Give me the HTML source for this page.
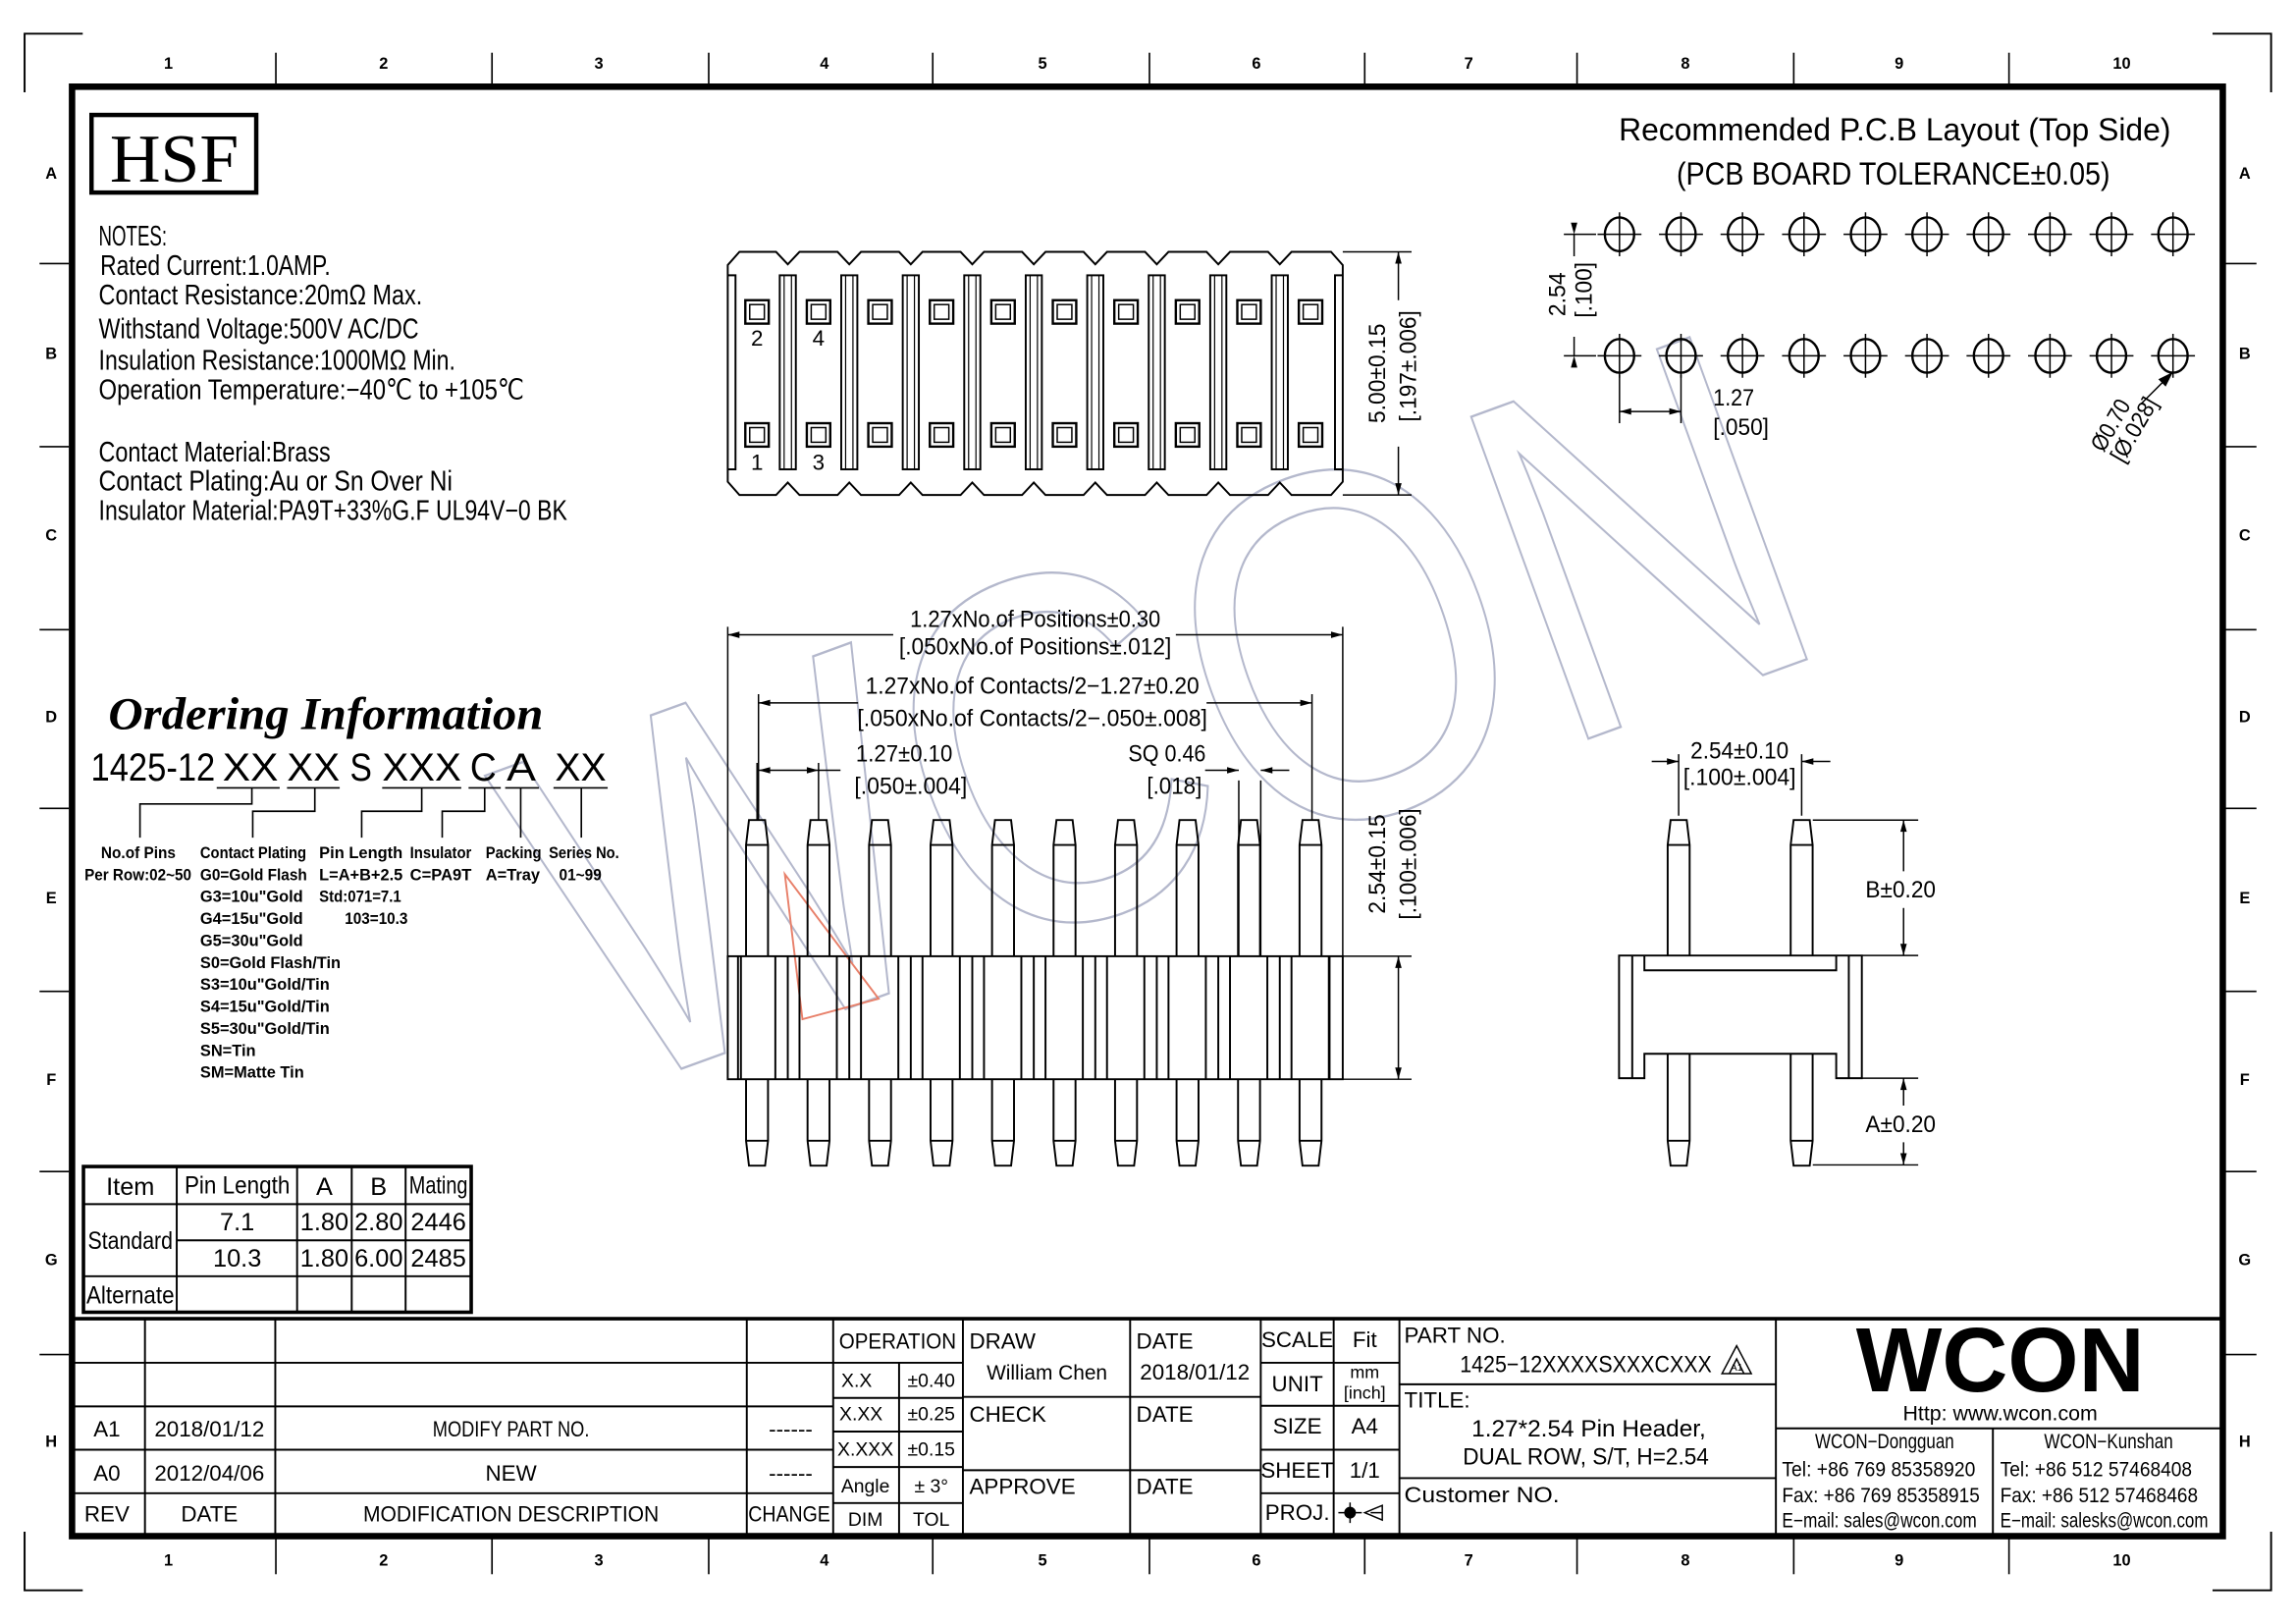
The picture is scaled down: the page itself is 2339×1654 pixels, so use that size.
<!DOCTYPE html>
<html><head><meta charset="utf-8">
<style>
html,body{margin:0;padding:0;background:#fff;}
svg{display:block;}
text{font-family:"Liberation Sans Narrow","Liberation Sans",sans-serif;fill:#000;}
.serif{font-family:"Liberation Serif",serif;}
</style></head>
<body>
<svg id="s" width="2339" height="1654" viewBox="0 0 1568 1109" preserveAspectRatio="none" xmlns="http://www.w3.org/2000/svg">
<rect x="0" y="0" width="1568" height="1109" fill="#fff"/>

<!-- watermark -->
<g transform="translate(410,750) rotate(-20)">
<text x="0" y="0" font-size="340" textLength="900" lengthAdjust="spacingAndGlyphs" style="font-family:'Liberation Sans',sans-serif;fill:none;stroke:#b4b8cc;stroke-width:1.6">WCON</text>
</g>
<polygon points="536,597 548,696 600,682" fill="none" stroke="#e8806a" stroke-width="1.3"/>

<g id="g" stroke="#000" stroke-width="1.3" fill="none">
<path d="M16.8,63 V23 H56.5"/>
<path d="M1551,63 V23 H1511"/>
<path d="M16.8,1046 V1086 H56.5"/>
<path d="M1551,1046 V1086 H1511"/>
<rect x="49.2" y="59.2" width="1468.8" height="989.8" stroke-width="4.4"/>
</g>

<g class="serif" font-size="11" font-weight="bold" text-anchor="middle" style="font-family:'Liberation Serif',serif">
<text x="115" y="47">1</text><text x="262" y="47">2</text><text x="409" y="47">3</text><text x="563" y="47">4</text><text x="712" y="47">5</text><text x="858" y="47">6</text><text x="1003" y="47">7</text><text x="1151" y="47">8</text><text x="1297" y="47">9</text><text x="1449" y="47">10</text>
<text x="115" y="1069">1</text><text x="262" y="1069">2</text><text x="409" y="1069">3</text><text x="563" y="1069">4</text><text x="712" y="1069">5</text><text x="858" y="1069">6</text><text x="1003" y="1069">7</text><text x="1151" y="1069">8</text><text x="1297" y="1069">9</text><text x="1449" y="1069">10</text>
<text x="35" y="122">A</text><text x="35" y="245">B</text><text x="35" y="369">C</text><text x="35" y="493">D</text><text x="35" y="617">E</text><text x="35" y="741">F</text><text x="35" y="864">G</text><text x="35" y="988">H</text>
<text x="1533" y="122">A</text><text x="1533" y="245">B</text><text x="1533" y="369">C</text><text x="1533" y="493">D</text><text x="1533" y="617">E</text><text x="1533" y="741">F</text><text x="1533" y="864">G</text><text x="1533" y="988">H</text>
</g>

<rect x="62.5" y="78.5" width="112.5" height="53" fill="none" stroke="#000" stroke-width="3"/>
<text x="119" y="124" text-anchor="middle" font-size="47" class="serif" style="font-family:'Liberation Serif',serif" textLength="88" lengthAdjust="spacingAndGlyphs">HSF</text>

<g font-size="19">
<text x="67.4" y="167.6" textLength="46.6" lengthAdjust="spacingAndGlyphs">NOTES:</text>
<text x="68.5" y="187.7" textLength="157.2" lengthAdjust="spacingAndGlyphs">Rated  Current:1.0AMP.</text>
<text x="67.4" y="208" textLength="221" lengthAdjust="spacingAndGlyphs">Contact  Resistance:20mΩ  Max.</text>
<text x="67.4" y="231" textLength="218.6" lengthAdjust="spacingAndGlyphs">Withstand  Voltage:500V  AC/DC</text>
<text x="67.4" y="252.5" textLength="243.6" lengthAdjust="spacingAndGlyphs">Insulation  Resistance:1000MΩ  Min.</text>
<text x="67.4" y="272.6" textLength="290.4" lengthAdjust="spacingAndGlyphs">Operation  Temperature:−40℃  to  +105℃</text>
<text x="67.4" y="315" textLength="158.3" lengthAdjust="spacingAndGlyphs">Contact  Material:Brass</text>
<text x="67.4" y="335" textLength="241.6" lengthAdjust="spacingAndGlyphs">Contact  Plating:Au  or  Sn  Over  Ni</text>
<text x="67.4" y="355" textLength="320" lengthAdjust="spacingAndGlyphs">Insulator  Material:PA9T+33%G.F  UL94V−0  BK</text>
</g>

<text x="74" y="498" font-size="31" font-weight="bold" font-style="italic" class="serif" style="font-family:'Liberation Serif',serif" textLength="297" lengthAdjust="spacingAndGlyphs">Ordering Information</text>
<g font-size="27" class="serif" style="font-family:'Liberation Serif',serif">
<text x="62" y="533" textLength="85" lengthAdjust="spacingAndGlyphs">1425-12</text>
<text x="152" y="533" textLength="38" lengthAdjust="spacingAndGlyphs">XX</text>
<text x="196" y="533" textLength="36" lengthAdjust="spacingAndGlyphs">XX</text>
<text x="239" y="533" textLength="15" lengthAdjust="spacingAndGlyphs">S</text>
<text x="261" y="533" textLength="54" lengthAdjust="spacingAndGlyphs">XXX</text>
<text x="321" y="533" textLength="18" lengthAdjust="spacingAndGlyphs">C</text>
<text x="346" y="533" textLength="20" lengthAdjust="spacingAndGlyphs">A</text>
<text x="379" y="533" textLength="35" lengthAdjust="spacingAndGlyphs">XX</text>
</g>
<g stroke="#000" stroke-width="1.1" fill="none">
<path d="M148,538 H191 M196,538 H232 M261,538 H315 M320,538 H342 M345,538 H368 M378,538 H415"/>
<path d="M172,538 V549 H95.6 V572"/>
<path d="M215,538 V554 H172.6 V572"/>
<path d="M288,538 V554 H247 V572"/>
<path d="M331,538 V554 H302 V572"/>
<path d="M355.6,538 V572"/>
<path d="M397,538 V572"/>
</g>
<g font-size="11" font-weight="bold" class="serif" style="font-family:'Liberation Serif',serif">
<text x="69" y="586" textLength="51" lengthAdjust="spacingAndGlyphs">No.of Pins</text>
<text x="57.7" y="601" textLength="73" lengthAdjust="spacingAndGlyphs">Per Row:02~50</text>
<text x="136.7" y="586" textLength="72.5" lengthAdjust="spacingAndGlyphs">Contact Plating</text>
<text x="136.7" y="601" textLength="73" lengthAdjust="spacingAndGlyphs">G0=Gold Flash</text>
<text x="136.7" y="616">G3=10u"Gold</text>
<text x="136.7" y="631">G4=15u"Gold</text>
<text x="136.7" y="646">G5=30u"Gold</text>
<text x="136.7" y="661">S0=Gold Flash/Tin</text>
<text x="136.7" y="676">S3=10u"Gold/Tin</text>
<text x="136.7" y="691">S4=15u"Gold/Tin</text>
<text x="136.7" y="706">S5=30u"Gold/Tin</text>
<text x="136.7" y="721">SN=Tin</text>
<text x="136.7" y="736">SM=Matte Tin</text>
<text x="218" y="586" textLength="57" lengthAdjust="spacingAndGlyphs">Pin Length</text>
<text x="218" y="601" textLength="57" lengthAdjust="spacingAndGlyphs">L=A+B+2.5</text>
<text x="218" y="616" textLength="56" lengthAdjust="spacingAndGlyphs">Std:071=7.1</text>
<text x="235.5" y="631" textLength="43" lengthAdjust="spacingAndGlyphs">103=10.3</text>
<text x="280" y="586" textLength="42" lengthAdjust="spacingAndGlyphs">Insulator</text>
<text x="280" y="601" textLength="42" lengthAdjust="spacingAndGlyphs">C=PA9T</text>
<text x="331.7" y="586" textLength="38" lengthAdjust="spacingAndGlyphs">Packing</text>
<text x="331.7" y="601" textLength="37" lengthAdjust="spacingAndGlyphs">A=Tray</text>
<text x="374.8" y="586" textLength="48" lengthAdjust="spacingAndGlyphs">Series No.</text>
<text x="381.8" y="601" textLength="29" lengthAdjust="spacingAndGlyphs">01~99</text>
</g>

<g stroke="#000" stroke-width="1.3" fill="none">
<rect x="57" y="796.6" width="264.8" height="99.5" stroke-width="2.4"/>
<path d="M57,822.3 H321.8 M120.7,847 H321.8 M57,871.5 H321.8"/>
<path d="M120.7,796.6 V896.1 M202.9,796.6 V896.1 M240.2,796.6 V896.1 M277,796.6 V896.1"/>
</g>
<g font-size="17" text-anchor="middle">
<text x="89" y="816">Item</text><text x="162" y="815" textLength="72" lengthAdjust="spacingAndGlyphs">Pin  Length</text><text x="221.5" y="816">A</text><text x="258.6" y="816">B</text><text x="299.4" y="815" textLength="40" lengthAdjust="spacingAndGlyphs">Mating</text>
<text x="89" y="853" textLength="58" lengthAdjust="spacingAndGlyphs">Standard</text>
<text x="162" y="840">7.1</text><text x="221.5" y="840">1.80</text><text x="258.6" y="840">2.80</text><text x="299.4" y="840">2446</text>
<text x="162" y="865">10.3</text><text x="221.5" y="865">1.80</text><text x="258.6" y="865">6.00</text><text x="299.4" y="865">2485</text>
<text x="89" y="890" textLength="60" lengthAdjust="spacingAndGlyphs">Alternate</text>
</g>

<g id="top" stroke="#000" stroke-width="1.3" fill="none"></g>
<g font-size="15" text-anchor="middle">
<text x="517" y="236">2</text><text x="559" y="236">4</text><text x="517" y="321">1</text><text x="559" y="321">3</text>
</g>
<g stroke="#000" stroke-width="1" fill="none">
<path d="M917,172 H964 M917,338 H964 M955,172 V205 M955,305 V338"/>
</g>
<g font-size="16" text-anchor="middle">
<text transform="translate(946,255) rotate(-90)" textLength="68" lengthAdjust="spacingAndGlyphs">5.00±0.15</text>
<text transform="translate(967,250) rotate(-90)" textLength="76" lengthAdjust="spacingAndGlyphs">[.197±.006]</text>
</g>

<g id="side" stroke="#000" stroke-width="1.3" fill="none"></g>
<g stroke="#000" stroke-width="1" fill="none">
<path d="M497,428 V653 M917,428 V653"/>
<path d="M497,433.5 H610 M803,433.5 H917"/>
<path d="M518,474 V560 M896,474 V560"/>
<path d="M518,480 H586 M824,480 H896"/>
<path d="M517,521 V560 M559,521 V560 M518.5,526 H574"/>
<path d="M846,533 V653 M861,533 V653 M823,526 H846 M861,526 H880.5"/>
<path d="M917,653 H964 M917,737 H964 M955,653 V737"/>
</g>
<g font-size="16" text-anchor="middle">
<text x="707" y="428" textLength="171" lengthAdjust="spacingAndGlyphs">1.27xNo.of  Positions±0.30</text>
<text x="707" y="447" textLength="186" lengthAdjust="spacingAndGlyphs">[.050xNo.of  Positions±.012]</text>
<text x="705" y="473.7" textLength="228" lengthAdjust="spacingAndGlyphs">1.27xNo.of  Contacts/2−1.27±0.20</text>
<text x="705" y="496" textLength="239" lengthAdjust="spacingAndGlyphs">[.050xNo.of  Contacts/2−.050±.008]</text>
<text x="617.5" y="520" textLength="66" lengthAdjust="spacingAndGlyphs">1.27±0.10</text>
<text x="622" y="542" textLength="77" lengthAdjust="spacingAndGlyphs">[.050±.004]</text>
<text x="797" y="520" textLength="53" lengthAdjust="spacingAndGlyphs">SQ  0.46</text>
<text x="802" y="542" textLength="37.5" lengthAdjust="spacingAndGlyphs">[.018]</text>
<text transform="translate(946,590) rotate(-90)" textLength="68" lengthAdjust="spacingAndGlyphs">2.54±0.15</text>
<text transform="translate(967,590) rotate(-90)" textLength="76" lengthAdjust="spacingAndGlyphs">[.100±.006]</text>
</g>

<g id="rside" stroke="#000" stroke-width="1.3" fill="none">
<path d="M1105.7,652.5 H1271.5 V736.3 H1254 V719.6 H1123 V736.3 H1105.7 Z"/>
<path d="M1114.7,652.5 V736.3 M1262.6,652.5 V736.3 M1123,652.5 V662.6 H1254 V652.5"/>
</g>
<g stroke="#000" stroke-width="1" fill="none">
<path d="M1146.4,515 V557 M1230.4,515 V557 M1128,520 H1146.4 M1230.4,520 H1250"/>
<path d="M1238,560 H1310 M1272,652.5 H1310 M1272,736.3 H1310 M1238,795.5 H1310 M1300,560 V595 M1300,620 V652.5 M1300,736.3 V755 M1300,780 V795.5"/>
</g>
<g font-size="16" text-anchor="middle">
<text x="1188" y="518" textLength="67" lengthAdjust="spacingAndGlyphs">2.54±0.10</text>
<text x="1188" y="536" textLength="77" lengthAdjust="spacingAndGlyphs">[.100±.004]</text>
<text x="1298" y="613" textLength="48" lengthAdjust="spacingAndGlyphs">B±0.20</text>
<text x="1298" y="773" textLength="48" lengthAdjust="spacingAndGlyphs">A±0.20</text>
</g>

<g font-size="22" text-anchor="middle">
<text x="1294" y="96" textLength="377" lengthAdjust="spacingAndGlyphs">Recommended  P.C.B  Layout  (Top  Side)</text>
<text x="1293" y="126" textLength="296" lengthAdjust="spacingAndGlyphs">(PCB  BOARD  TOLERANCE±0.05)</text>
</g>
<g id="pcb" stroke="#000" stroke-width="1.3" fill="none"></g>
<g stroke="#000" stroke-width="1" fill="none">
<path d="M1068,160 H1090 M1068,243 H1090 M1075,160 V175 M1075,230 V243"/>
<path d="M1106,256 V289 M1148,256 V289 M1106,281 H1148"/>
<path d="M1484,254 L1462,276"/>
</g>
<g font-size="16" text-anchor="middle">
<text transform="translate(1069,201) rotate(-90)" textLength="30" lengthAdjust="spacingAndGlyphs">2.54</text>
<text transform="translate(1087,198) rotate(-90)" textLength="38" lengthAdjust="spacingAndGlyphs">[.100]</text>
<text x="1184" y="277" textLength="28" lengthAdjust="spacingAndGlyphs">1.27</text>
<text x="1189" y="297" textLength="38" lengthAdjust="spacingAndGlyphs">[.050]</text>
<text transform="translate(1446,293) rotate(-60)" textLength="38" lengthAdjust="spacingAndGlyphs">Ø0.70</text>
<text transform="translate(1462,296) rotate(-60)" textLength="48" lengthAdjust="spacingAndGlyphs">[Ø.028]</text>
</g>

<g stroke="#000" stroke-width="1.3" fill="none">
<path d="M49,900.5 H1518" stroke-width="2.4"/>
<path d="M49,930.6 H569 M49,960.4 H569 M49,990 H569 M49,1019.7 H569" />
<path d="M99,900.5 V1049 M188,900.5 V1049 M510,900.5 V1049 M569,900.5 V1049 M657.6,900.5 V1049 M771.8,900.5 V1049 M861,900.5 V1049 M910.8,900.5 V1049 M955.7,900.5 V1049 M1212.8,900.5 V1049"/>
<path d="M569,930.6 H657.6 M569,954.6 H657.6 M569,977.6 H657.6 M569,1001.8 H657.6 M569,1026.4 H657.6 M614,930.6 V1049"/>
<path d="M657.6,953.9 H861 M657.6,1004 H861"/>
<path d="M861,930.6 H955.7 M861,960 H955.7 M861,990 H955.7 M861,1019.7 H955.7"/>
<path d="M955.7,945.3 H1212.8 M955.7,1009.4 H1212.8"/>
<path d="M1212.8,975.4 H1518 M1361,975.4 V1049"/>
</g>
<g font-size="15">
<g text-anchor="middle">
<text x="73" y="981">A1</text><text x="143" y="981">2018/01/12</text><text x="349" y="981" textLength="107" lengthAdjust="spacingAndGlyphs">MODIFY  PART  NO.</text><text x="540" y="981">------</text>
<text x="73" y="1011">A0</text><text x="143" y="1011">2012/04/06</text><text x="349" y="1011">NEW</text><text x="540" y="1011">------</text>
<text x="73" y="1039">REV</text><text x="143" y="1039">DATE</text><text x="349" y="1039" textLength="202" lengthAdjust="spacingAndGlyphs">MODIFICATION  DESCRIPTION</text><text x="539" y="1039" textLength="56" lengthAdjust="spacingAndGlyphs">CHANGE</text>
<text x="613" y="921" textLength="80" lengthAdjust="spacingAndGlyphs">OPERATION</text>
<text x="585" y="947" font-size="13">X.X</text><text x="636" y="947" font-size="13">±0.40</text>
<text x="588" y="970" font-size="13">X.XX</text><text x="636" y="970" font-size="13">±0.25</text>
<text x="591" y="994" font-size="13">X.XXX</text><text x="636" y="994" font-size="13">±0.15</text>
<text x="591" y="1019" font-size="13">Angle</text><text x="636" y="1019" font-size="13">±  3°</text>
<text x="591" y="1042" font-size="13">DIM</text><text x="636" y="1042" font-size="13">TOL</text>
<text x="715" y="942" font-size="14">William  Chen</text>
<text x="816" y="942">2018/01/12</text>
<text x="886" y="920">SCALE</text><text x="932" y="920">Fit</text>
<text x="886" y="950">UNIT</text><text x="932" y="941" font-size="12">mm</text><text x="932" y="955" font-size="12">[inch]</text>
<text x="886" y="979">SIZE</text><text x="932" y="979">A4</text>
<text x="886" y="1009">SHEET</text><text x="932" y="1009">1/1</text>
<text x="886" y="1038">PROJ.</text>
</g>
<text x="662" y="921">DRAW</text><text x="776" y="921">DATE</text>
<text x="662" y="971">CHECK</text><text x="776" y="971">DATE</text>
<text x="662" y="1020">APPROVE</text><text x="776" y="1020">DATE</text>
<text x="959" y="917">PART  NO.</text>
<text x="997" y="937" font-size="16" textLength="172" lengthAdjust="spacingAndGlyphs">1425−12XXXXSXXXCXXX</text>
<text x="959" y="961">TITLE:</text>
<text x="1085" y="981" font-size="16" text-anchor="middle" textLength="160" lengthAdjust="spacingAndGlyphs">1.27*2.54  Pin  Header,</text>
<text x="1083" y="1000" font-size="16" text-anchor="middle" textLength="168" lengthAdjust="spacingAndGlyphs">DUAL  ROW,  S/T,  H=2.54</text>
<text x="959" y="1026" textLength="106" lengthAdjust="spacingAndGlyphs">Customer  NO.</text>
</g>
<g stroke="#000" stroke-width="1" fill="none">
<path d="M1186,938 L1176,938 L1186,919 L1196,938 Z M1181,938 L1186,928 L1191,938"/>
<circle cx="922" cy="1033" r="3.5" fill="#000"/>
<path d="M914,1033 H930 M922,1026 V1040 M932,1033 L944,1028 V1038 Z M936,1033 H944"/>
</g>
<text x="1186" y="936" font-size="7" text-anchor="middle">A1</text>

<text x="1366" y="950" text-anchor="middle" font-size="62" font-weight="bold" textLength="197" lengthAdjust="spacingAndGlyphs" style="font-family:'Liberation Sans',sans-serif">WCON</text>
<g font-size="14">
<text x="1366" y="970" text-anchor="middle" textLength="133" lengthAdjust="spacingAndGlyphs">Http:  www.wcon.com</text>
<text x="1287" y="989" text-anchor="middle" textLength="95" lengthAdjust="spacingAndGlyphs">WCON−Dongguan</text>
<text x="1217" y="1008" textLength="132" lengthAdjust="spacingAndGlyphs">Tel:  +86  769  85358920</text>
<text x="1217" y="1026" textLength="135" lengthAdjust="spacingAndGlyphs">Fax:  +86  769  85358915</text>
<text x="1217" y="1043" textLength="133" lengthAdjust="spacingAndGlyphs">E−mail:  sales@wcon.com</text>
<text x="1440" y="989" text-anchor="middle" textLength="88" lengthAdjust="spacingAndGlyphs">WCON−Kunshan</text>
<text x="1366" y="1008" textLength="131" lengthAdjust="spacingAndGlyphs">Tel:  +86  512  57468408</text>
<text x="1366" y="1026" textLength="135" lengthAdjust="spacingAndGlyphs">Fax:  +86  512  57468468</text>
<text x="1366" y="1043" textLength="142" lengthAdjust="spacingAndGlyphs">E−mail:  salesks@wcon.com</text>
</g>

<g id="ticks" stroke="#000" stroke-width="1.1"></g>
<g id="arrows" fill="#000"></g>

<script>
var NS="http://www.w3.org/2000/svg";
function el(p,tag,a){var e=document.createElementNS(NS,tag);for(var k in a)e.setAttribute(k,a[k]);document.getElementById(p).appendChild(e);return e;}
[188.4,336,484,637,785,932,1077,1225,1372].forEach(function(x){
 el("ticks","line",{x1:x,y1:36,x2:x,y2:57});
 el("ticks","line",{x1:x,y1:1051,x2:x,y2:1075});
});
[180,305,430,552,677,800,925].forEach(function(y){
 el("ticks","line",{x1:27,y1:y,x2:47,y2:y});
 el("ticks","line",{x1:1520,y1:y,x2:1541,y2:y});
});
var d="M497,181 L505,172";
for(var k=0;k<9;k++){var m=538+42*k;d+=" L"+(m-8)+",172 L"+m+",180.5 L"+(m+8)+",172";}
d+=" L909,172 L917,181 L917,329 L909,338";
for(var k=8;k>=0;k--){var m=538+42*k;d+=" L"+(m+8)+",338 L"+m+",329.5 L"+(m-8)+",338";}
d+=" L505,338 L497,329 Z";
el("top","path",{d:d});
el("top","path",{d:"M497,188 H502.3 V320.5 H497 M917,188 H911.7 V320.5 H917"});
for(var k=0;k<9;k++){var m=538+42*k;
 el("top","rect",{x:m-5.5,y:188,width:11,height:132.5});
 el("top","rect",{x:m-2.5,y:188,width:5,height:132.5,"stroke-width":0.8});
}
for(var i=0;i<10;i++){var c=517+42*i;
 [205,289].forEach(function(y){
  el("top","rect",{x:c-8,y:y,width:16,height:16,"stroke-width":1.6});
  el("top","rect",{x:c-5,y:y+3,width:10,height:10,"stroke-width":1});
 });
}
el("side","rect",{x:497,y:653,width:420,height:84});
for(var i=0;i<10;i++){var c=517+42*i;
 el("side","path",{d:"M"+(c-7.5)+",653 V577 L"+(c-5.5)+",560 H"+(c+5.5)+" L"+(c+7.5)+",577 V653 M"+(c-7.5)+",577 H"+(c+7.5)});
 el("side","path",{d:"M"+(c-7.5)+",737 V779 L"+(c-5.5)+",796 H"+(c+5.5)+" L"+(c+7.5)+",779 V737 M"+(c-7.5)+",779 H"+(c+7.5)});
 el("side","path",{d:"M"+(c-13)+",653 V737 M"+(c+12.5)+",653 V737"});
 if(i<9) el("side","path",{d:"M"+(c+21)+",653 V737"});
}
el("side","path",{d:"M506,653 V737 M908,653 V737"});
[1146.4,1230.4].forEach(function(c){
 el("rside","path",{d:"M"+(c-7.5)+",652.5 V577 L"+(c-5.5)+",560 H"+(c+5.5)+" L"+(c+7.5)+",577 V652.5 M"+(c-7.5)+",577 H"+(c+7.5)});
 el("rside","path",{d:"M"+(c-7.5)+",719.6 V779 L"+(c-5.5)+",796 H"+(c+5.5)+" L"+(c+7.5)+",779 V719.6 M"+(c-7.5)+",779 H"+(c+7.5)});
});
for(var i=0;i<10;i++){var x=1106+42*i;
 [160,243].forEach(function(y){
  el("pcb","ellipse",{cx:x,cy:y,rx:10,ry:11.5,"stroke-width":1.6});
  el("pcb","path",{d:"M"+(x-15)+","+y+" H"+(x+15)+" M"+x+","+(y-15)+" V"+(y+15),"stroke-width":1});
 });
}
function arr(x,y,dir){var L=8,W=2.2,p;
 if(dir=="r")p=[x,y,x-L,y-W,x-L,y+W];
 if(dir=="l")p=[x,y,x+L,y-W,x+L,y+W];
 if(dir=="u")p=[x,y,x-W,y+L,x+W,y+L];
 if(dir=="d")p=[x,y,x-W,y-L,x+W,y-L];
 el("arrows","polygon",{points:p.join(",")});}
arr(497,433.5,"l");arr(917,433.5,"r");
arr(518,480,"l");arr(896,480,"r");
arr(518,526,"l");arr(559,526,"r");
arr(846,526,"r");arr(861,526,"l");
arr(955,172,"u");arr(955,338,"d");
arr(955,653,"u");arr(955,737,"d");
arr(1146.4,520,"r");arr(1230.4,520,"l");
arr(1300,560,"u");arr(1300,652.5,"d");
arr(1300,736.3,"u");arr(1300,795.5,"d");
arr(1075,160,"d");arr(1075,243,"u");
arr(1106,281,"l");arr(1148,281,"r");
el("arrows","polygon",{points:"1484,254 1474,259 1479,264"});
</script>
</svg>
</body></html>
